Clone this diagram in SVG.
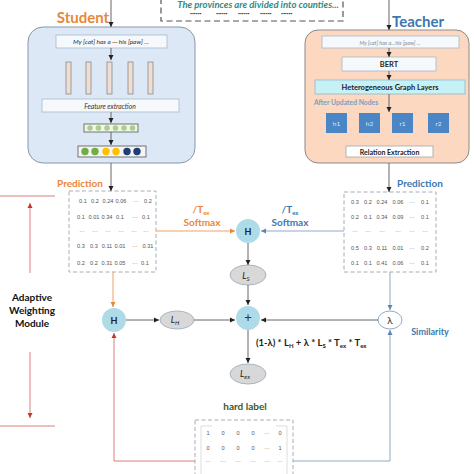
<svg xmlns="http://www.w3.org/2000/svg" width="474" height="474" viewBox="0 0 474 474">
<style>
text{font-family:Lato,"Open Sans","Liberation Sans",sans-serif}
.b{font-weight:bold}
.num{font-size:5.6px;fill:#555;text-anchor:middle;font-family:"Liberation Sans",sans-serif}
.ln{fill:none;stroke:#666;stroke-width:1}
.lo{fill:none;stroke:#f0a266;stroke-width:1}
.lb{fill:none;stroke:#8fa9c6;stroke-width:1}
.lr{fill:none;stroke:#d9807a;stroke-width:1}
.mat{fill:#fff;stroke:#a8adb3;stroke-width:1;stroke-dasharray:4 2.5}
.circ{fill:#aedbe8}
.ell{fill:#d8d8d8;stroke:#a8b4c0;stroke-width:1}
.ibox{fill:#f6f9fc;stroke:#a9b9cc;stroke-width:0.8}
.bar{fill:#f0ddd4;stroke:#8a8a8a;stroke-width:0.8}
.sq{fill:#4a86c5}
</style>
<defs>
<marker id="ak" markerWidth="6" markerHeight="6" refX="5" refY="3" orient="auto" markerUnits="userSpaceOnUse"><path d="M0,0.5 L5,3 L0,5.5z" fill="#222"/></marker>
<marker id="ao" markerWidth="6" markerHeight="6" refX="5" refY="3" orient="auto" markerUnits="userSpaceOnUse"><path d="M0,0.5 L5,3 L0,5.5z" fill="#e8883a"/></marker>
<marker id="ab" markerWidth="6" markerHeight="6" refX="5" refY="3" orient="auto" markerUnits="userSpaceOnUse"><path d="M0,0.5 L5,3 L0,5.5z" fill="#5a86b5"/></marker>
<marker id="ar" markerWidth="6" markerHeight="6" refX="5" refY="3" orient="auto" markerUnits="userSpaceOnUse"><path d="M0,0.5 L5,3 L0,5.5z" fill="#c0392b"/></marker>
<linearGradient id="wg" x1="0" y1="0" x2="1" y2="0"><stop offset="0" stop-color="#e6edf5"/><stop offset="0.5" stop-color="#ffffff"/><stop offset="1" stop-color="#f6f8fb"/></linearGradient>
</defs>
<rect width="474" height="474" fill="#fff"/>

<!-- top input -->
<g id="input">
<path d="M161,-2 V21 H343 V-2" fill="none" stroke="#555" stroke-width="1.2" stroke-dasharray="6 3.5"/>
<text x="258" y="8" font-size="9.5" font-style="italic" class="b" fill="#2e8b84" text-anchor="middle">The provinces are divided into counties...</text>
<text y="16" font-size="7" fill="#333" class="b" font-family="Liberation Sans,sans-serif"><tspan x="190">······</tspan><tspan x="216">······</tspan><tspan x="238">······</tspan><tspan x="260">······</tspan><tspan x="281">······</tspan></text>
</g>

<!-- student -->
<g id="student">
<text x="83" y="23" font-size="15" class="b" fill="#e8883a" text-anchor="middle">Student</text>
<rect x="28" y="27" width="167" height="136" rx="15" fill="#dce8f5" stroke="#8796a8" stroke-width="1"/>
<rect x="56" y="35" width="111" height="13" class="ibox" fill="url(#wg)"/>
<text x="111" y="44" font-size="6.5" font-style="italic" fill="#333" text-anchor="middle">My [cat] has a ··· his [paw] ...</text>
<rect x="66" y="62" width="5" height="32" class="bar"/>
<rect x="86" y="62" width="5" height="32" class="bar"/>
<rect x="107" y="62" width="5" height="32" class="bar"/>
<rect x="128" y="62" width="5" height="32" class="bar"/>
<rect x="148" y="62" width="5" height="32" class="bar"/>
<rect x="42" y="99" width="137" height="13" class="ibox" fill="url(#wg)"/>
<text x="110" y="108.5" font-size="6.8" font-style="italic" fill="#333" text-anchor="middle">Feature extraction</text>
<rect x="84" y="124" width="54" height="8" fill="#f2f7ea" stroke="#555" stroke-width="0.8"/>
<g fill="#a9d18e"><circle cx="90" cy="128" r="2.8"/><circle cx="98.5" cy="128" r="2.8"/><circle cx="107" cy="128" r="2.8"/><circle cx="115.5" cy="128" r="2.8"/><circle cx="124" cy="128" r="2.8"/><circle cx="132.5" cy="128" r="2.8"/></g>
<rect x="78" y="146" width="68" height="11" fill="#f4f4f4" stroke="#555" stroke-width="0.8"/>
<circle cx="85" cy="151.5" r="3.7" fill="#70ad47"/><circle cx="95" cy="151.5" r="3.7" fill="#70ad47"/>
<circle cx="106" cy="151.5" r="3.7" fill="#ffc000"/><circle cx="116" cy="151.5" r="3.7" fill="#ffc000"/>
<circle cx="127" cy="151.5" r="3.7" fill="#1f3e78"/><circle cx="137" cy="151.5" r="3.7" fill="#1f3e78"/>
</g>

<!-- teacher -->
<g id="teacher">
<text x="418" y="27" font-size="15" class="b" fill="#3d78b0" text-anchor="middle">Teacher</text>
<rect x="305" y="30" width="164" height="133" rx="13" fill="#fbd8bf" stroke="#8a8a8a" stroke-width="1"/>
<rect x="322" y="36" width="137" height="12" class="ibox" fill="url(#wg)"/>
<text x="390" y="44.5" font-size="5.5" font-style="italic" fill="#7c8fa8" text-anchor="middle">My [cat] has a...his [paw] ...</text>
<rect x="342" y="57" width="94" height="14" class="ibox" fill="url(#wg)"/>
<text x="389" y="67" font-size="7.5" class="b" fill="#222" text-anchor="middle">BERT</text>
<rect x="315" y="80" width="150" height="14" fill="#c6f1f7" stroke="#8fb8c8" stroke-width="0.8"/>
<text x="390" y="90" font-size="7.5" class="b" fill="#222" text-anchor="middle">Heterogeneous Graph Layers</text>
<text x="314" y="105" font-size="6.8" class="b" fill="#7f9cc0">After Updated Nodes</text>
<rect x="326" y="113" width="21" height="20" class="sq"/><text x="336.5" y="126" font-size="6.5" fill="#dbe8f6" text-anchor="middle">h1</text>
<rect x="359" y="113" width="21" height="20" class="sq"/><text x="369.5" y="126" font-size="6.5" fill="#dbe8f6" text-anchor="middle">h2</text>
<rect x="392" y="113" width="21" height="20" class="sq"/><text x="402.5" y="126" font-size="6.5" fill="#dbe8f6" text-anchor="middle">r1</text>
<rect x="428" y="113" width="21" height="20" class="sq"/><text x="438.5" y="126" font-size="6.5" fill="#dbe8f6" text-anchor="middle">r2</text>
<rect x="346" y="146" width="87" height="11" fill="#fff" stroke="#a6a6a6" stroke-width="0.8"/>
<text x="389.5" y="154.5" font-size="7" class="b" fill="#222" text-anchor="middle">Relation Extraction</text>
</g>

<!-- prediction matrices -->
<g id="pred-student">
<text x="80" y="187" font-size="10" class="b" fill="#e8883a" text-anchor="middle">Prediction</text>
<rect x="69" y="191" width="87" height="81" class="mat"/>
<text y="203" class="num"><tspan x="83">0.1</tspan><tspan x="95">0.2</tspan><tspan x="108">0.24</tspan><tspan x="121">0.06</tspan><tspan x="136">···</tspan><tspan x="148">0.2</tspan></text>
<text y="219" class="num"><tspan x="81">0.1</tspan><tspan x="94">0.01</tspan><tspan x="107">0.34</tspan><tspan x="120">0.1</tspan><tspan x="135">···</tspan><tspan x="146">0.1</tspan></text>
<text y="233" class="num"><tspan x="82">···</tspan><tspan x="95">···</tspan><tspan x="108">···</tspan><tspan x="121">···</tspan><tspan x="134">···</tspan><tspan x="146">···</tspan></text>
<text y="248" class="num"><tspan x="81">0.3</tspan><tspan x="94">0.3</tspan><tspan x="107">0.11</tspan><tspan x="120">0.01</tspan><tspan x="135">···</tspan><tspan x="148">0.31</tspan></text>
<text y="265" class="num"><tspan x="81">0.2</tspan><tspan x="94">0.2</tspan><tspan x="107">0.31</tspan><tspan x="120">0.05</tspan><tspan x="135">···</tspan><tspan x="145">0.1</tspan></text>
</g>
<g id="pred-teacher">
<text x="420" y="187" font-size="10" class="b" fill="#3d78b0" text-anchor="middle">Prediction</text>
<rect x="344" y="192" width="92" height="80" class="mat"/>
<text y="204" class="num"><tspan x="355">0.3</tspan><tspan x="368">0.2</tspan><tspan x="382">0.24</tspan><tspan x="398">0.06</tspan><tspan x="412">···</tspan><tspan x="425">0.1</tspan></text>
<text y="219" class="num"><tspan x="355">0.2</tspan><tspan x="368">0.1</tspan><tspan x="382">0.34</tspan><tspan x="398">0.09</tspan><tspan x="412">···</tspan><tspan x="425">0.1</tspan></text>
<text y="233" class="num"><tspan x="355">···</tspan><tspan x="368">···</tspan><tspan x="382">···</tspan><tspan x="398">···</tspan><tspan x="412">···</tspan><tspan x="425">···</tspan></text>
<text y="250" class="num"><tspan x="355">0.5</tspan><tspan x="368">0.3</tspan><tspan x="382">0.11</tspan><tspan x="398">0.01</tspan><tspan x="412">···</tspan><tspan x="425">0.2</tspan></text>
<text y="265" class="num"><tspan x="355">0.1</tspan><tspan x="368">0.1</tspan><tspan x="382">0.41</tspan><tspan x="398">0.06</tspan><tspan x="412">···</tspan><tspan x="425">0.1</tspan></text>
</g>

<!-- softmax labels -->
<g id="softmax-labels">
<text x="201" y="213" font-size="10" class="b" fill="#e8883a" text-anchor="middle">/T<tspan font-size="6" dy="2">ex</tspan></text>
<text x="202" y="226" font-size="10" class="b" fill="#e8883a" text-anchor="middle">Softmax</text>
<text x="290" y="213" font-size="10" class="b" fill="#3d78b0" text-anchor="middle">/T<tspan font-size="6" dy="2">ex</tspan></text>
<text x="290" y="226" font-size="10" class="b" fill="#3d78b0" text-anchor="middle">Softmax</text>
</g>

<!-- nodes -->
<g id="H-top"><circle cx="248" cy="231" r="12" class="circ"/><text x="248" y="234.5" font-size="9" class="b" fill="#222" text-anchor="middle">H</text></g>
<g id="Ls"><ellipse cx="248" cy="275" rx="18" ry="10" class="ell"/><text x="246" y="278.5" font-size="9" font-style="italic" fill="#222" text-anchor="middle">L<tspan font-size="6" dy="2">S</tspan></text></g>
<g id="plus"><circle cx="248" cy="318" r="12" class="circ"/><text x="248" y="322" font-size="13" fill="#333" text-anchor="middle">+</text></g>
<g id="Lex"><ellipse cx="248" cy="374" rx="18" ry="10" class="ell"/><text x="245" y="377" font-size="9" font-style="italic" fill="#222" text-anchor="middle">L<tspan font-size="6" dy="2">ex</tspan></text></g>
<g id="H-left"><circle cx="114" cy="320" r="12" class="circ"/><text x="114" y="323.5" font-size="9" class="b" fill="#222" text-anchor="middle">H</text></g>
<g id="LH"><ellipse cx="177" cy="320" rx="17" ry="9" class="ell"/><text x="175" y="323" font-size="9" font-style="italic" fill="#222" text-anchor="middle">L<tspan font-size="6" dy="2">H</tspan></text></g>
<g id="lambda"><ellipse cx="390" cy="320" rx="12" ry="9" fill="#fff" stroke="#8fa9c6" stroke-width="1"/><text x="390" y="323.5" font-size="10" fill="#333" text-anchor="middle" font-family="DejaVu Sans,sans-serif">λ</text></g>
<text x="430" y="335" font-size="9" class="b" fill="#3d78b0" text-anchor="middle">Similarity</text>
<text x="256" y="346" font-size="9.5" class="b" fill="#222">(1-λ) * L<tspan font-size="6" dy="2">H</tspan><tspan dy="-2"> + λ * L</tspan><tspan font-size="6" dy="2">S</tspan><tspan dy="-2"> * T</tspan><tspan font-size="6" dy="2">ex</tspan><tspan dy="-2"> * T</tspan><tspan font-size="6" dy="2">ex</tspan></text>

<!-- adaptive weighting -->
<g id="adaptive">
<path d="M0,196 H55 M0,426 H55" class="lr" stroke="#d9807a"/>
<text x="32" y="301" font-size="10" class="b" fill="#111" text-anchor="middle">Adaptive</text>
<text x="32" y="314" font-size="10" class="b" fill="#111" text-anchor="middle">Weighting</text>
<text x="32" y="327" font-size="10" class="b" fill="#111" text-anchor="middle">Module</text>
</g>

<!-- hard label -->
<g id="hard-label">
<text x="245" y="410" font-size="10" class="b" fill="#3c5a24" text-anchor="middle">hard label</text>
<rect x="195" y="420" width="98" height="70" class="mat"/>
<path d="M201,485 V426 H212 M276,426 H287 V485" fill="none" stroke="#d4d4d4" stroke-width="0.8"/>
<text y="435" class="num"><tspan x="208">1</tspan><tspan x="223">0</tspan><tspan x="238">0</tspan><tspan x="253">0</tspan><tspan x="267">···</tspan><tspan x="280">0</tspan></text>
<text y="450" class="num"><tspan x="208">0</tspan><tspan x="223">0</tspan><tspan x="238">0</tspan><tspan x="253">0</tspan><tspan x="267">···</tspan><tspan x="280">1</tspan></text>
<text y="463" class="num"><tspan x="208">···</tspan><tspan x="223">···</tspan><tspan x="238">···</tspan><tspan x="253">···</tspan><tspan x="267">···</tspan><tspan x="280">···</tspan></text>
</g>

<!-- connectors -->
<g id="connectors">
<path d="M111,0 V27" class="ln" marker-end="url(#ak)"/>
<path d="M389,0 V30" class="ln" marker-end="url(#ak)"/>
<path d="M111,48 V60" class="ln" marker-end="url(#ak)"/>
<path d="M111,112 V123" class="ln" marker-end="url(#ak)"/>
<path d="M111,132 V145" class="ln" marker-end="url(#ak)"/>
<path d="M111,163 V191" class="ln" marker-end="url(#ak)"/>
<path d="M389,48 V57" class="ln" marker-end="url(#ak)"/>
<path d="M389,71 V80" class="ln" marker-end="url(#ak)"/>
<path d="M389,94 V112" class="ln" marker-end="url(#ak)"/>
<path d="M389,163 V192" class="ln" marker-end="url(#ak)"/>
<path d="M156,231 H235" class="lo" marker-end="url(#ao)"/>
<path d="M113,272 V307" class="lo" marker-end="url(#ao)"/>
<path d="M344,231 H261" class="lb" marker-end="url(#ab)"/>
<path d="M390,272 V310" class="lb" marker-end="url(#ab)"/>
<path d="M248,243 V265" class="ln" marker-end="url(#ak)"/>
<path d="M248,285 V305" class="ln" marker-end="url(#ak)"/>
<path d="M248,330 V363" class="ln" marker-end="url(#ak)"/>
<path d="M126,320 H159" class="ln" marker-end="url(#ak)"/>
<path d="M194,320 H235" class="ln" marker-end="url(#ak)"/>
<path d="M378,320 H261" class="ln" marker-end="url(#ak)"/>
<path d="M195,461 H114 V333" class="lr" marker-end="url(#ar)"/>
<path d="M293,461 H390 V330" class="lb" marker-end="url(#ab)"/>
<path d="M30,273 V203" class="lr" marker-end="url(#ar)"/>
<path d="M30,352 V418" class="lr" marker-end="url(#ar)"/>
</g>
</svg>
